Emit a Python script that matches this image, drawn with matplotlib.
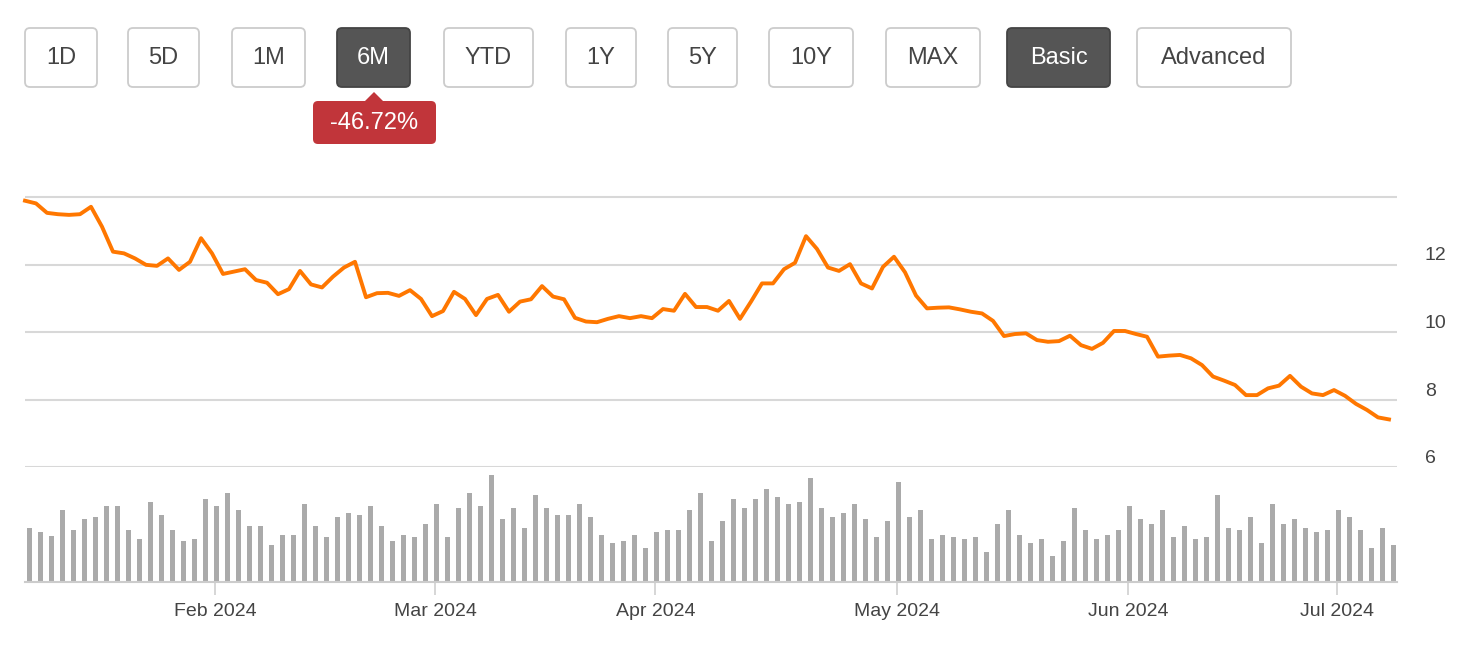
import numpy as np
import matplotlib.pyplot as plt
from matplotlib.patches import FancyBboxPatch, Polygon

plt.rcParams['font.family'] = ['Liberation Sans', 'DejaVu Sans']

# daily closing prices, one per trading day (Jan 8 2024 .. Jul 8 2024)
prices = [13.89, 13.81, 13.53, 13.49, 13.47, 13.49, 13.71, 13.12, 12.38, 12.33,
          12.18, 11.99, 11.96, 12.18, 11.84, 12.08, 12.78, 12.33, 11.72, 11.79,
          11.86, 11.54, 11.46, 11.12, 11.27, 11.81, 11.41, 11.32, 11.64, 11.91,
          12.08, 11.03,
          11.15, 11.16, 11.07, 11.24, 10.98, 10.47, 10.62, 11.19, 10.98, 10.50,
          10.98, 11.10, 10.60, 10.90, 10.97, 11.36, 11.05, 10.97, 10.42, 10.31,
          10.29, 10.39, 10.47, 10.41, 10.47, 10.41, 10.68, 10.63, 11.13, 10.74,
          10.74,
          10.63, 10.92, 10.39, 10.90, 11.44, 11.44, 11.86, 12.05, 12.84, 12.46,
          11.91, 11.81, 12.01, 11.44, 11.29, 11.93, 12.23, 11.77, 11.08, 10.70,
          10.72, 10.73, 10.67, 10.60, 10.55, 10.33, 9.88, 9.94, 9.96, 9.76,
          9.71, 9.73,
          9.89, 9.61, 9.50, 9.68, 10.03, 10.03, 9.94, 9.86, 9.27, 9.30,
          9.32, 9.22, 9.02, 8.68, 8.56, 8.43, 8.13, 8.13, 8.33, 8.41,
          8.70, 8.38, 8.18, 8.13, 8.28, 8.11, 7.87, 7.69, 7.47, 7.41]

# relative daily volume (arbitrary units)
volume = [162, 149, 137, 215, 155, 189, 195, 228, 228, 155, 129, 241, 201, 155, 123, 129,
          248, 228, 267, 215, 169, 169, 110, 142, 142, 234, 169, 136, 195, 208, 202, 228,
          169, 123, 142, 136, 175, 234, 136, 221, 267, 228, 320, 189, 221, 162, 261, 221,
          202, 202, 234, 195, 142, 116, 123, 142, 103, 149, 155, 155, 215, 267, 123, 182,
          248, 221, 248, 280, 254, 234, 241, 313, 221, 195, 208, 234, 189, 136, 182, 300,
          195, 215, 129, 142, 136, 129, 136, 90, 175, 215, 142, 116, 129, 77, 123, 221,
          155, 129, 142, 155, 228, 189, 175, 215, 136, 169, 129, 136, 261, 162, 155, 195,
          116, 234, 175, 189, 162, 149, 155, 215, 195, 155, 103, 162, 110]

month_pos = [17, 37, 57, 79, 100, 119]
month_labels = ['Feb 2024', 'Mar 2024', 'Apr 2024', 'May 2024', 'Jun 2024', 'Jul 2024']
y_ticks = [6, 8, 10, 12, 14]
y_labels = ['6', '8', '10', '12', '']

buttons = ['1D', '5D', '1M', '6M', 'YTD', '1Y', '5Y', '10Y', 'MAX', 'Basic', 'Advanced']
button_x = [25, 128, 232, 337, 444, 566, 668, 769, 886, 1007, 1137]
button_w = [72, 71, 73, 73, 89, 70, 69, 84, 94, 103, 154]
active = ['6M', 'Basic']
change_text = '-46.72%'

W, H = 1465, 656
fig = plt.figure(figsize=(W / 100, H / 100), dpi=100)
x = np.arange(len(prices))

left, right = 25 / W, 1397 / W
xmax = (1397 - 25) / 11

# price panel
ax = fig.add_axes([left, 1 - 467 / H, right - left, 277 / H])
ax.plot(x, prices, color='#ff7700', lw=2.8, solid_joinstyle='round', clip_on=False)
ax.set_xlim(0, xmax)
ax.set_ylim(6, 6 + 277 / 33.75)
ax.set_yticks(y_ticks)
ax.set_yticklabels(y_labels)
ax.yaxis.tick_right()
ax.tick_params(axis='y', length=0, pad=20, labelsize=14, labelcolor='#444444')
for lbl in ax.get_yticklabels():
    lbl.set_va('bottom')
ax.set_xticks([])
ax.grid(axis='y', color='#d8d8d8', lw=1.5)
ax.set_axisbelow(True)
for s in ax.spines.values():
    s.set_visible(False)

# volume panel
axv = fig.add_axes([left, 1 - 582 / H, right - left, 115 / H])
axv.bar(x + 0.4, volume, width=0.45, color='#aaaaaa')
axv.set_xlim(0, xmax)
axv.set_ylim(0, 345)
axv.set_yticks([])
axv.set_xticks(np.array(month_pos) + 0.3)
axv.set_xticklabels(month_labels)
axv.tick_params(axis='x', length=9, width=1.2, color='#d0d0d0', labelsize=14,
                labelcolor='#444444', pad=6)
for s in ['top', 'left', 'right']:
    axv.spines[s].set_visible(False)
axv.spines['bottom'].set_color('#cccccc')
axv.spines['bottom'].set_linewidth(1.5)

# button bar and change badge (pixel coordinates)
ov = fig.add_axes([0, 0, 1, 1], zorder=5)
ov.set_xlim(0, W)
ov.set_ylim(H, 0)
ov.axis('off')
for name, bx, bw in zip(buttons, button_x, button_w):
    on = name in active
    ov.add_patch(FancyBboxPatch((bx, 28), bw, 59, boxstyle='round,pad=0,rounding_size=5',
                                fc='#555555' if on else 'white',
                                ec='#444444' if on else '#cccccc', lw=1.3))
    ov.text(bx + bw / 2, 58, name, ha='center', va='center', fontsize=17,
            color='white' if on else '#444444')

red = '#c1353a'
ov.add_patch(FancyBboxPatch((313, 101), 123, 43, boxstyle='round,pad=0,rounding_size=5',
                            fc=red, ec='none'))
ov.add_patch(Polygon([(364, 102), (374, 92), (384, 102)], closed=True, fc=red, ec='none'))
ov.text(374.5, 123, change_text, ha='center', va='center', fontsize=17, color='white')

fig.savefig('out.png', dpi=100)
